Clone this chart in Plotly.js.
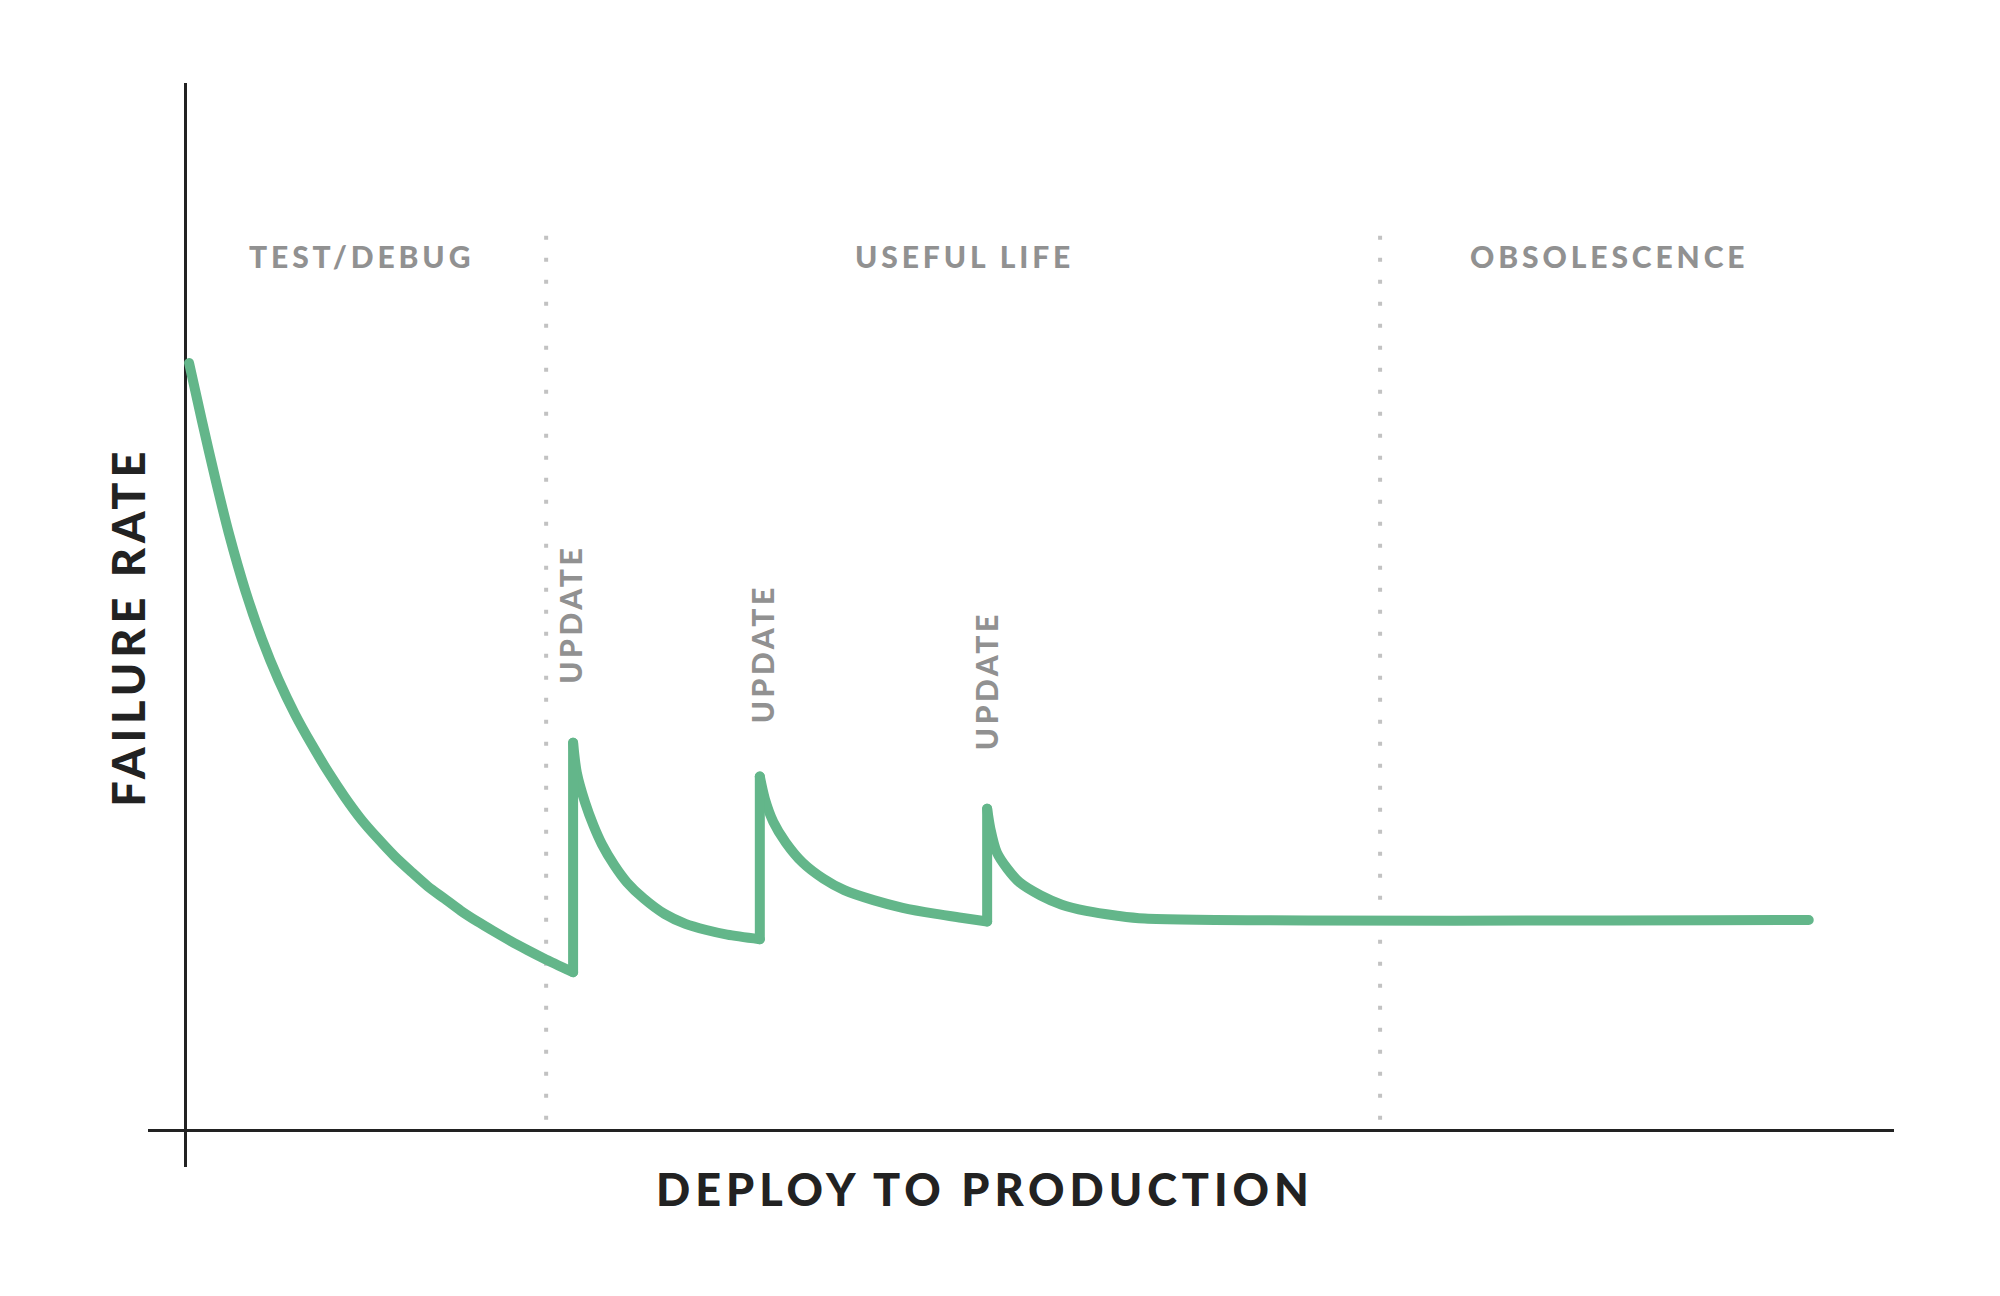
<!DOCTYPE html>
<html>
<head>
<meta charset="utf-8">
<script src="https://cdn.plot.ly/plotly-3.0.1.min.js"></script>
<style>
  html, body { margin: 0; padding: 0; background: #fff; }
  #myDiv { width: 2000px; height: 1296px; }
  .js-line { stroke-linecap: round; stroke-linejoin: round; }
  .annotation-text { letter-spacing: 0.13em; }
  .annotation[data-index="3"] .annotation-text,
  .annotation[data-index="4"] .annotation-text,
  .annotation[data-index="5"] .annotation-text { letter-spacing: 0.12em; }
  .annotation[data-index="6"] .annotation-text,
  .annotation[data-index="7"] .annotation-text { letter-spacing: 0.11em; }
</style>
</head>
<body>
<div id="myDiv"></div>
<script>
// failure rate, one array pair per segment
var burnInT = [0.25, 1.06, 1.88, 2.70, 3.72, 4.74, 5.76, 6.78, 7.80, 8.82, 9.85, 10.86,
               11.89, 12.91, 13.93, 14.95, 15.97, 16.99, 18.01, 19.04, 20.06, 21.08, 22.10, 23.9];
var burnInF = [100, 92.3, 84.8, 77.8, 70.3, 64.0, 58.7, 54.2, 50.3, 46.7, 43.4, 40.5,
               38.0, 35.7, 33.7, 31.8, 30.2, 28.6, 27.2, 25.9, 24.65, 23.5, 22.4, 20.6];

var update1T = [23.9, 24.13, 24.64, 25.16, 25.67, 26.45, 27.22, 28.25, 29.53, 30.82, 32.11, 33.39, 35.4];
var update1F = [50.5, 46.6, 42.7, 39.7, 37.3, 34.5, 32.3, 30.2, 28.2, 26.9, 26.1, 25.5, 24.9];

var update2T = [35.4, 35.71, 36.23, 37.0, 38.03, 39.31, 40.6, 42.4, 44.2, 46.26, 47.8, 49.4];
var update2F = [46.1, 43.2, 40.2, 37.5, 34.9, 32.8, 31.3, 30.0, 29.0, 28.2, 27.7, 27.2];

var update3T = [49.4, 49.6, 50.0, 50.64, 51.4, 52.7, 54.0, 55.5, 57.3, 59.1, 100];
var update3F = [41.9, 39.3, 36.2, 34.1, 32.3, 30.6, 29.4, 28.6, 28.0, 27.6, 27.4];

// phases
var phaseNames = ['TEST/DEBUG', 'USEFUL LIFE', 'OBSOLESCENCE'];
var phaseCenters = [10.85, 47.98, 87.75];
var phaseBounds = [22.24, 73.6];

// update labels
var updateLabel = 'UPDATE';
var updateLabelT = [23.7, 35.5, 49.3];
var updateLabelF = [67.3, 62.1, 58.6];

var green = '#63b68a';
var segT = [burnInT, update1T, update2T, update3T];
var segF = [burnInF, update1F, update2F, update3F];

var data = [];
// smooth decay after each start / update
segT.forEach(function (ts, i) {
  data.push({
    x: ts, y: segF[i], type: 'scatter', mode: 'lines',
    line: { color: green, width: 10, shape: 'spline', smoothing: 0.8 },
    hoverinfo: 'skip'
  });
});
// vertical jump at each update
for (var i = 1; i < segT.length; i++) {
  var prevT = segT[i - 1], prevF = segF[i - 1];
  data.push({
    x: [prevT[prevT.length - 1], segT[i][0]],
    y: [prevF[prevF.length - 1], segF[i][0]],
    type: 'scatter', mode: 'lines',
    line: { color: green, width: 10 },
    hoverinfo: 'skip'
  });
}

var grey = '#919191';
var annotations = [];
phaseNames.forEach(function (name, i) {
  annotations.push({
    x: phaseCenters[i], y: 114, xref: 'x', yref: 'y',
    text: name, showarrow: false,
    font: { family: 'Lato', size: 30, color: grey, weight: 900 }
  });
});
updateLabelT.forEach(function (t, i) {
  annotations.push({
    x: t, y: updateLabelF[i], xref: 'x', yref: 'y',
    text: updateLabel, showarrow: false, textangle: -90,
    font: { family: 'Lato', size: 30, color: grey, weight: 900 }
  });
});
// axis titles
annotations.push({
  x: -0.0113, y: 0.4983, xref: 'paper', yref: 'paper',
  xanchor: 'center', yanchor: 'middle',
  text: 'FAILURE RATE', showarrow: false, textangle: -90,
  font: { family: 'Lato', size: 45, color: '#222222', weight: 900 }
});
annotations.push({
  x: 0.4794, y: -0.0203, xref: 'paper', yref: 'paper',
  xanchor: 'center', yanchor: 'middle',
  text: 'DEPLOY TO PRODUCTION', showarrow: false,
  font: { family: 'Lato', size: 45, color: '#222222', weight: 900 }
});

var shapes = phaseBounds.map(function (b) {
  return {
    type: 'line', xref: 'x', yref: 'y',
    x0: b, x1: b, y0: 116.6, y1: 0,
    line: { color: '#c2c2c2', width: 4, dash: '4px,18px' },
    layer: 'below'
  };
});

var layout = {
  width: 2000,
  height: 1296,
  margin: { l: 148, r: 106, t: 83, b: 129 },
  paper_bgcolor: '#ffffff',
  plot_bgcolor: '#ffffff',
  showlegend: false,
  xaxis: {
    range: [-2.28, 105.25],
    showgrid: false, showticklabels: false, ticks: '',
    zeroline: true, zerolinecolor: '#222222', zerolinewidth: 3,
    fixedrange: true
  },
  yaxis: {
    range: [-4.79, 136.5],
    showgrid: false, showticklabels: false, ticks: '',
    zeroline: true, zerolinecolor: '#222222', zerolinewidth: 3,
    fixedrange: true
  },
  annotations: annotations,
  shapes: shapes
};

Plotly.newPlot('myDiv', data, layout, { displayModeBar: false, staticPlot: true });
</script>
</body>
</html>
